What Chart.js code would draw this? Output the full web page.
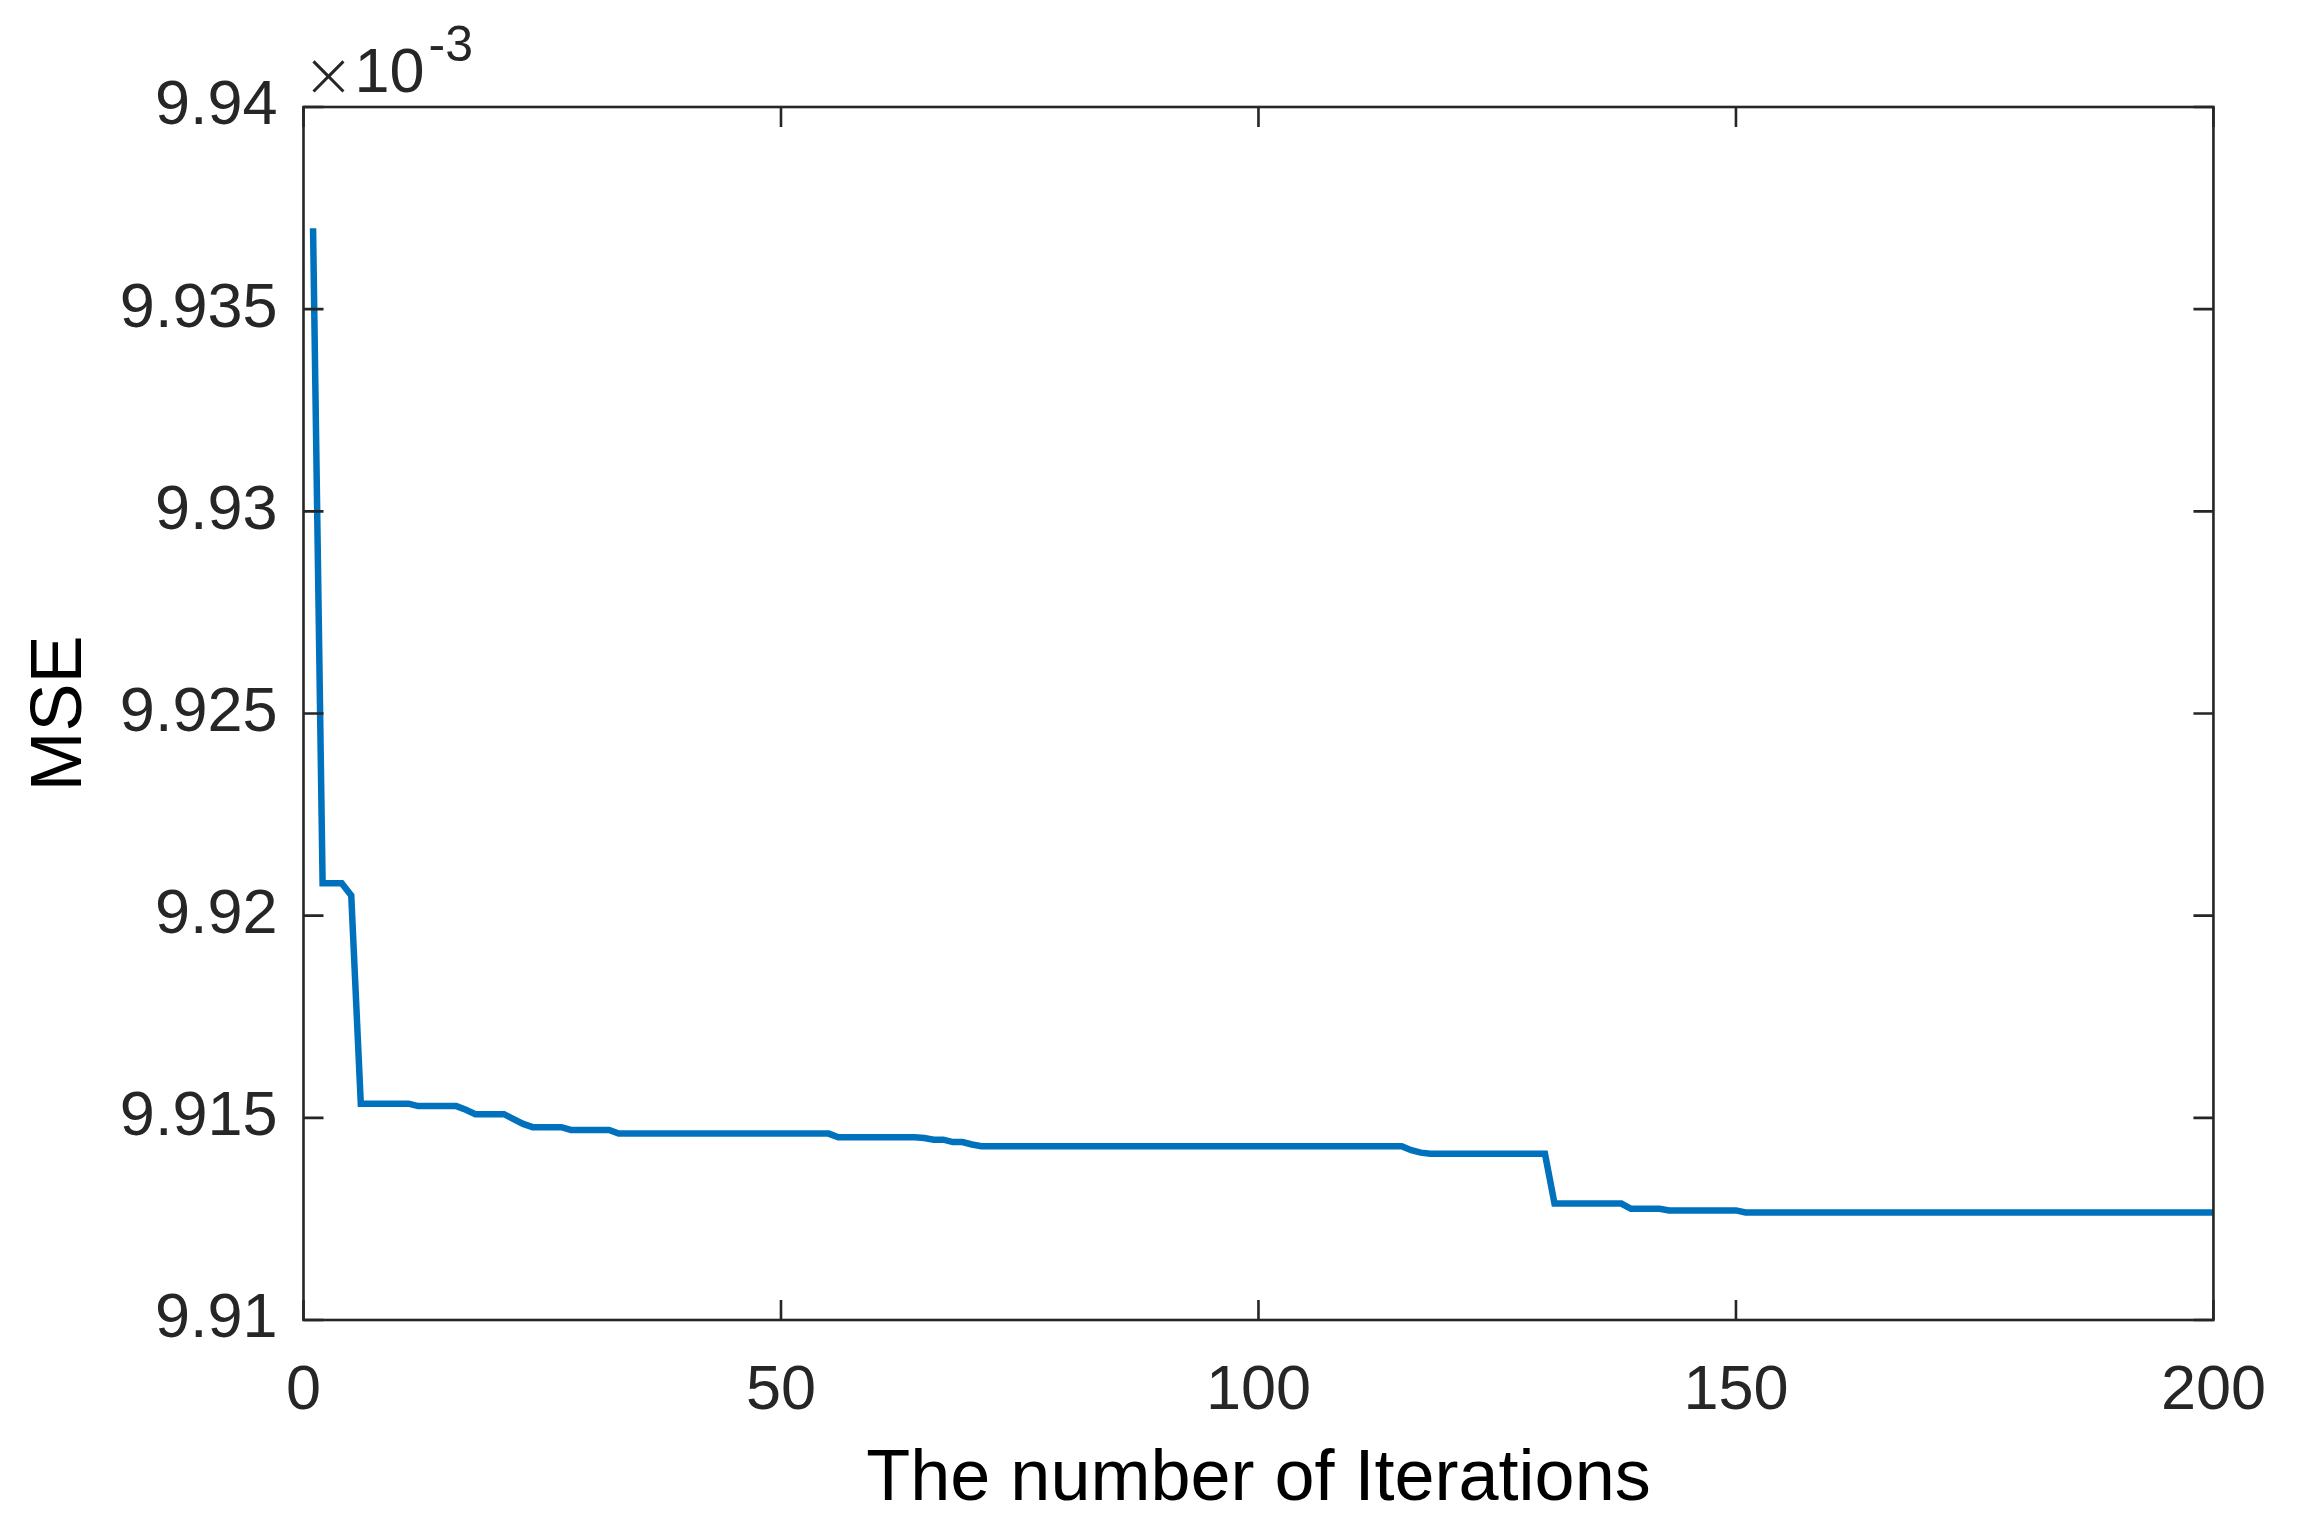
<!DOCTYPE html>
<html>
<head>
  <title>MSE vs Iterations</title>
  <meta charset="UTF-8">
  <script src="https://cdn.jsdelivr.net/npm/chart.js"></script>
  <style>
    body {
      margin: 0;
      padding: 0;
      background-color: white;
    }
    .chart-container {
      width: 2300px;
      height: 1538px;
    }
  </style>
</head>
<body>
  <div class="chart-container">
    <canvas id="mseChart" width="2300" height="1538"></canvas>
  </div>

  <script>
    // Breakpoints of the convergence curve (MSE in units of 1e-3)
    const iterations = [1, 2, 4, 5, 6, 11, 12, 16, 17, 18, 21, 22, 23, 24, 27, 28, 32, 33, 55, 56, 64,
                        65, 66, 67, 68, 69, 70, 71, 115, 116, 117, 118, 130, 131, 138, 139, 142, 143, 150, 151, 200];
    const mse = [9.9370, 9.9208, 9.9208, 9.9205, 9.91535, 9.91535, 9.91529, 9.91529, 9.91520, 9.91509, 9.91509,
                 9.91497, 9.91485, 9.91477, 9.91477, 9.91470, 9.91470, 9.91461, 9.91461, 9.91452, 9.91452,
                 9.91450, 9.91446, 9.91446, 9.91440, 9.91440, 9.91434, 9.91430, 9.91430, 9.91420, 9.91414,
                 9.91411, 9.91411, 9.91288, 9.91288, 9.91275, 9.91275, 9.91271, 9.91271, 9.91266, 9.91266];

    const xTicks = [0, 50, 100, 150, 200];
    const yTicks = [9.91, 9.915, 9.92, 9.925, 9.93, 9.935, 9.94];
    const yExponent = '-3';

    const axisColor = '#262626';
    const fontFamily = 'Liberation Sans, Arial, Helvetica, sans-serif';
    const tickFont = { family: fontFamily, size: 63 };
    const titleFont = { family: fontFamily, size: 72 };

    // Box around the axes with inward tick marks on all four sides, plus the x10^-3 label
    const matlabAxes = {
      id: 'matlabAxes',
      afterDatasetsDraw(chart) {
        const ctx = chart.ctx;
        const area = chart.chartArea;
        const xs = chart.scales.x;
        const ys = chart.scales.y;
        const tickLen = 20;

        ctx.save();
        ctx.strokeStyle = axisColor;
        ctx.lineWidth = 2.6;
        ctx.beginPath();
        xTicks.forEach(v => {
          const px = xs.getPixelForValue(v);
          ctx.moveTo(px, area.bottom);
          ctx.lineTo(px, area.bottom - tickLen);
          ctx.moveTo(px, area.top);
          ctx.lineTo(px, area.top + tickLen);
        });
        yTicks.forEach(v => {
          const py = ys.getPixelForValue(v);
          ctx.moveTo(area.left, py);
          ctx.lineTo(area.left + tickLen, py);
          ctx.moveTo(area.right, py);
          ctx.lineTo(area.right - tickLen, py);
        });
        ctx.stroke();
        ctx.strokeRect(area.left, area.top, area.right - area.left, area.bottom - area.top);

        // exponent label: x10^-3
        ctx.fillStyle = axisColor;
        ctx.textBaseline = 'alphabetic';
        ctx.textAlign = 'center';
        ctx.font = '300 62px "DejaVu Sans", ' + fontFamily;
        ctx.fillText('\u00d7', area.left + 25, area.top - 11);
        ctx.textAlign = 'left';
        ctx.font = '63px ' + fontFamily;
        ctx.fillText('10', area.left + 51, area.top - 15);
        ctx.font = '50px ' + fontFamily;
        ctx.fillText(yExponent, area.left + 125, area.top - 46);
        ctx.restore();
      }
    };

    window.addEventListener('load', function() {
      const ctx = document.getElementById('mseChart').getContext('2d');
      new Chart(ctx, {
        type: 'line',
        data: {
          datasets: [{
            label: 'MSE',
            data: iterations.map((it, i) => ({ x: it, y: mse[i] })),
            borderColor: '#0072BD',
            backgroundColor: '#0072BD',
            borderWidth: 6.5,
            pointRadius: 0,
            tension: 0,
            fill: false
          }]
        },
        options: {
          responsive: false,
          devicePixelRatio: 1,
          animation: false,
          layout: {
            padding: { top: 107, right: 76, left: 0, bottom: 0 }
          },
          plugins: {
            legend: { display: false },
            tooltip: { enabled: false }
          },
          scales: {
            x: {
              type: 'linear',
              min: 0,
              max: 200,
              afterBuildTicks: function(scale) {
                scale.ticks = xTicks.map(v => ({ value: v }));
              },
              afterFit: function(scale) {
                scale.height = 218;
              },
              grid: { display: false, drawTicks: false },
              border: { display: false },
              ticks: {
                color: axisColor,
                font: tickFont,
                padding: 34,
                maxRotation: 0
              },
              title: {
                display: true,
                text: 'The number of Iterations',
                color: '#000',
                font: titleFont,
                padding: { top: 0, bottom: 15 }
              }
            },
            y: {
              min: 9.91,
              max: 9.94,
              afterBuildTicks: function(scale) {
                scale.ticks = yTicks.map(v => ({ value: v }));
              },
              afterFit: function(scale) {
                scale.width = 303.5;
              },
              grid: { display: false, drawTicks: false },
              border: { display: false },
              ticks: {
                color: axisColor,
                font: tickFont,
                padding: 26,
                callback: function(value) {
                  return String(Number(value.toFixed(3)));
                }
              },
              title: {
                display: true,
                text: 'MSE',
                color: '#000',
                font: titleFont,
                padding: { top: 18, bottom: 0 }
              }
            }
          }
        },
        plugins: [matlabAxes]
      });
    });
  </script>
</body>
</html>
